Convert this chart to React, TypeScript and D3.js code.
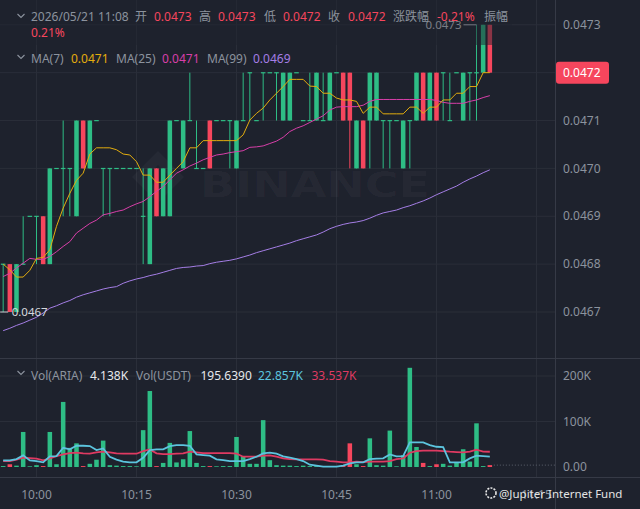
import React, { useEffect, useRef } from "react";
import * as d3 from "d3";

// one candle per minute, 09:55 .. 11:08
const times = [
  "09:55", "09:56", "09:57", "09:58", "09:59",
  "10:00", "10:01", "10:02", "10:03", "10:04", "10:05", "10:06", "10:07", "10:08", "10:09",
  "10:10", "10:11", "10:12", "10:13", "10:14", "10:15", "10:16", "10:17", "10:18", "10:19",
  "10:20", "10:21", "10:22", "10:23", "10:24", "10:25", "10:26", "10:27", "10:28", "10:29",
  "10:30", "10:31", "10:32", "10:33", "10:34", "10:35", "10:36", "10:37", "10:38", "10:39",
  "10:40", "10:41", "10:42", "10:43", "10:44", "10:45", "10:46", "10:47", "10:48", "10:49",
  "10:50", "10:51", "10:52", "10:53", "10:54", "10:55", "10:56", "10:57", "10:58", "10:59",
  "11:00", "11:01", "11:02", "11:03", "11:04", "11:05", "11:06", "11:07", "11:08",
];

const opens = [
  0.0468, 0.0468, 0.0467, 0.0468, 0.0469,
  0.0469, 0.0469, 0.0468, 0.047, 0.047, 0.047, 0.0469, 0.0471, 0.047, 0.0471,
  0.047, 0.047, 0.047, 0.047, 0.047, 0.047, 0.0469, 0.0468, 0.047, 0.0469,
  0.0469, 0.0471, 0.047, 0.0471, 0.047, 0.047, 0.0471, 0.0471, 0.0471, 0.0471,
  0.047, 0.0471, 0.0472, 0.0471, 0.0472, 0.0472, 0.0472, 0.0471, 0.0471, 0.0472,
  0.0471, 0.0471, 0.0471, 0.0471, 0.0471, 0.0472, 0.0472, 0.0472, 0.047, 0.0471,
  0.0471, 0.0471, 0.0471, 0.0471, 0.0471, 0.047, 0.0471, 0.0471, 0.0472, 0.0471,
  0.0472, 0.0472, 0.0471, 0.0472, 0.0471, 0.0472, 0.0472, 0.0472, 0.0473,
];
const highs = [
  0.0468, 0.0468, 0.0468, 0.0469, 0.0469,
  0.0469, 0.0469, 0.047, 0.047, 0.0471, 0.047, 0.0471, 0.0471, 0.0471, 0.0471,
  0.047, 0.047, 0.047, 0.047, 0.047, 0.047, 0.047, 0.047, 0.047, 0.047,
  0.0471, 0.0471, 0.0471, 0.0472, 0.0471, 0.047, 0.0471, 0.0471, 0.0471, 0.0471,
  0.0471, 0.0472, 0.0472, 0.0471, 0.0472, 0.0472, 0.0472, 0.0472, 0.0472, 0.0472,
  0.0471, 0.0472, 0.0472, 0.0472, 0.0472, 0.0472, 0.0472, 0.0472, 0.0471, 0.0471,
  0.0472, 0.0472, 0.0471, 0.0471, 0.0471, 0.0471, 0.0471, 0.0472, 0.0472, 0.0472,
  0.0472, 0.0472, 0.0472, 0.0472, 0.0472, 0.0472, 0.0473, 0.0473, 0.0473,
];
const lows = [
  0.0467, 0.0467, 0.0467, 0.0468, 0.0469,
  0.0468, 0.0468, 0.0468, 0.047, 0.0469, 0.0469, 0.0469, 0.047, 0.047, 0.0471,
  0.0469, 0.0469, 0.047, 0.047, 0.047, 0.047, 0.0468, 0.0468, 0.0469, 0.0469,
  0.0469, 0.0471, 0.047, 0.0471, 0.047, 0.047, 0.047, 0.0471, 0.0471, 0.047,
  0.047, 0.0471, 0.0471, 0.0471, 0.0471, 0.0472, 0.0471, 0.0471, 0.0471, 0.0472,
  0.0471, 0.0471, 0.0471, 0.0471, 0.0471, 0.0472, 0.0471, 0.047, 0.047, 0.047,
  0.047, 0.0471, 0.047, 0.047, 0.0471, 0.047, 0.047, 0.0471, 0.0471, 0.0471,
  0.0471, 0.0471, 0.0471, 0.0472, 0.0471, 0.0471, 0.0471, 0.0472, 0.0472,
];
const closes = [
  0.0468, 0.0467, 0.0468, 0.0468, 0.0469,
  0.0469, 0.0468, 0.047, 0.047, 0.047, 0.047, 0.0471, 0.047, 0.0471, 0.0471,
  0.047, 0.047, 0.047, 0.047, 0.047, 0.047, 0.0469, 0.047, 0.0469, 0.047,
  0.0471, 0.0471, 0.0471, 0.0471, 0.047, 0.047, 0.047, 0.0471, 0.0471, 0.0471,
  0.0471, 0.0471, 0.0472, 0.0471, 0.0472, 0.0472, 0.0472, 0.0472, 0.0472, 0.0472,
  0.0471, 0.0471, 0.0472, 0.0471, 0.0472, 0.0472, 0.0471, 0.0471, 0.0471, 0.047,
  0.0472, 0.0472, 0.0471, 0.0471, 0.0471, 0.0471, 0.0471, 0.0472, 0.0471, 0.0472,
  0.0471, 0.0472, 0.0471, 0.0472, 0.0472, 0.0472, 0.0472, 0.0473, 0.0472,
];
const volumes = [
  2000, 6000, 3000, 77000, 1500,
  4000, 2000, 77000, 6000, 143000, 42000, 52000, 2000, 7000, 16000,
  58000, 4000, 3000, 2000, 2000, 1500, 81000, 167000, 2000, 9000,
  53000, 10000, 17000, 79000, 9000, 2000, 2000, 1500, 2000, 2000,
  66000, 24000, 7000, 7000, 103000, 15000, 4000, 3000, 3000, 2000,
  3000, 2000, 2000, 1500, 1500, 2000, 2000, 52000, 6000, 2000,
  63000, 4000, 3000, 80000, 1500, 26000, 218000, 44000, 9000, 2000,
  6000, 7000, 3000, 11000, 39000, 12000, 96000, 2000, 4138,
];
const ma7 = [
  0.0468, 0.046788, 0.046773, 0.046773, 0.046787,
  0.046812, 0.046814, 0.04683, 0.046879, 0.046917, 0.046948, 0.046975, 0.04699, 0.04703, 0.047043,
  0.047043, 0.047043, 0.047039, 0.04703, 0.047028, 0.047014, 0.046986, 0.046986, 0.046971, 0.046971,
  0.046986, 0.047, 0.047014, 0.047043, 0.047043, 0.047058, 0.047058, 0.047058, 0.047058, 0.047058,
  0.047058, 0.04707, 0.047101, 0.047115, 0.047126, 0.047143, 0.047157, 0.047171, 0.047186, 0.047186,
  0.047186, 0.047172, 0.047171, 0.047157, 0.047157, 0.047147, 0.047143, 0.047143, 0.04714, 0.047115,
  0.047128, 0.047128, 0.047114, 0.047114, 0.047114, 0.047114, 0.047128, 0.047128, 0.047115, 0.047128,
  0.047128, 0.047143, 0.047143, 0.047157, 0.047157, 0.047171, 0.047171, 0.0472, 0.0472,
];
const ma25 = [
  0.046774, 0.046781, 0.046792, 0.046802, 0.046812,
  0.04681, 0.04681, 0.046816, 0.046826, 0.046837, 0.046847, 0.046865, 0.046875, 0.046885, 0.046892,
  0.046903, 0.046906, 0.04691, 0.046913, 0.04692, 0.046926, 0.046931, 0.046941, 0.046952, 0.046962,
  0.046976, 0.04699, 0.046997, 0.047005, 0.047011, 0.047018, 0.047023, 0.047028, 0.04703, 0.047033,
  0.047035, 0.047037, 0.047044, 0.047045, 0.047047, 0.047052, 0.047057, 0.047065, 0.047077, 0.047084,
  0.047089, 0.047096, 0.047103, 0.04711, 0.047122, 0.047128, 0.047129, 0.047129, 0.047129, 0.047132,
  0.04714, 0.047144, 0.047144, 0.047144, 0.047144, 0.047144, 0.047144, 0.047144, 0.047144, 0.047144,
  0.047142, 0.047138, 0.047136, 0.047136, 0.047136, 0.04714, 0.047143, 0.047148, 0.047152,
];
const ma99 = [
  0.046661, 0.046666, 0.046672, 0.046677, 0.046683,
  0.046689, 0.046698, 0.046708, 0.046713, 0.046719, 0.046724, 0.046731, 0.046736, 0.04674, 0.046744,
  0.046748, 0.046751, 0.046753, 0.04676, 0.046765, 0.046769, 0.046772, 0.046776, 0.046779, 0.046783,
  0.046787, 0.046791, 0.046793, 0.046794, 0.046796, 0.046797, 0.046801, 0.046804, 0.046806, 0.046808,
  0.046811, 0.046815, 0.046819, 0.046824, 0.046828, 0.046832, 0.046836, 0.04684, 0.046844, 0.046849,
  0.046853, 0.046857, 0.046861, 0.046867, 0.046874, 0.046879, 0.046883, 0.046886, 0.046888, 0.046891,
  0.046896, 0.046902, 0.046907, 0.04691, 0.046913, 0.046918, 0.046922, 0.046927, 0.046932, 0.046938,
  0.046945, 0.046951, 0.046957, 0.046963, 0.046971, 0.046978, 0.046984, 0.046991, 0.046997,
];
// volume averages, in K
const volMa5 = [
  14.6, 14.6, 17.5, 25.5, 14.6,
  13.1, 10.2, 23.4, 24.1, 42.3, 38.7, 46.7, 46.7, 46, 37.2,
  40.9, 22.6, 16.1, 11.7, 10.2, 10.2, 20.4, 37.2, 38.7, 38.7,
  46, 48.2, 48.2, 46.7, 27.7, 26.3, 24.8, 16.8, 15.3, 13.1,
  13.1, 13.1, 17.5, 22.6, 29.9, 31.4, 29.2, 23.4, 20.4, 17.5,
  13.1, 5.1, 2.9, 0.7, 0.7, 0.7, 2.9, 8, 10.2, 10.2,
  17.5, 18.2, 19, 27.7, 23.4, 24.1, 54, 54, 54, 48.2,
  44.5, 43.8, 10.2, 10.2, 10.2, 19, 24.8, 24.1, 22.857,
];
const volMa10 = [
  13.1, 13.1, 16.1, 20.4, 19.7,
  18.2, 14.6, 19, 24.1, 27.7, 30.7, 31.4, 29.9, 29.2, 32.1,
  33.6, 32.1, 29.9, 29.2, 29.2, 29.2, 35, 38.7, 29.9, 28.5,
  28.5, 29.2, 29.9, 33.6, 32.1, 30.7, 30.7, 30.7, 30.7, 30.7,
  29.2, 22.6, 22.6, 22.6, 24.8, 25.5, 22.6, 19, 17.5, 16.8,
  16.8, 16.8, 16.8, 16.1, 13.1, 11.7, 10.2, 10.2, 11.7, 10.9,
  11.7, 11.7, 11.7, 13.1, 17.5, 19, 31.4, 35, 35.8, 35.8,
  35.8, 35, 33.6, 32.8, 32.1, 33.6, 38, 33.6, 33.537,
];

const priceTicks = [0.0467, 0.0468, 0.0469, 0.047, 0.0471, 0.0472, 0.0473];
const volTicks = [0, 100000, 200000];
const volTickLabels = ["0.00", "100K", "200K"];
const timeTicks = ["10:00", "10:15", "10:30", "10:45", "11:00", "11:15"];
const lastPrice = 0.0472;

const BG = "#1e222d";
const GRID = "#2a2e39";
const SEP = "#363a46";
const TXT = "#8c939e";
const UP = "#2ebd85";
const DOWN = "#f6465d";
const FONT = '"Noto Sans", "Noto Sans CJK SC", sans-serif';

export default function App() {
  const ref = useRef<SVGSVGElement>(null);

  useEffect(() => {
    document.body.style.margin = "0";
    const svg = d3.select(ref.current);
    svg.selectAll("*").remove();

    const toMin = (s: string) => {
      const [h, m] = s.split(":").map(Number);
      return h * 60 + m;
    };
    const x = d3.scaleLinear().domain([toMin("10:00"), toMin("11:15")]).range([36.5, 536.5]);
    const y = d3.scaleLinear().domain([0.0467, 0.0473]).range([312, 24.8]);
    const yv = d3.scaleLinear().domain([0, 200000]).range([467, 376]);
    const step = x(toMin("10:01")) - x(toMin("10:00"));
    const bw = step * 0.68;
    const axisX = 555;

    const candles = times.map((t, i) => ({
      t: toMin(t), o: opens[i], h: highs[i], l: lows[i], c: closes[i], v: volumes[i],
    }));
    const col = (d) => (d.c < d.o ? DOWN : UP);

    svg.append("rect").attr("width", 640).attr("height", 509).attr("fill", BG);

    const defs = svg.append("defs");
    defs.append("clipPath").attr("id", "main").append("rect").attr("width", axisX).attr("height", 358);
    defs.append("clipPath").attr("id", "vol").append("rect").attr("y", 358).attr("width", axisX).attr("height", 119);

    // grid
    const grid = svg.append("g").attr("stroke", GRID).attr("stroke-width", 1);
    timeTicks.forEach((t) => {
      grid.append("line").attr("x1", x(toMin(t))).attr("x2", x(toMin(t))).attr("y1", 0).attr("y2", 477);
    });
    priceTicks.forEach((p) => {
      grid.append("line").attr("x1", 0).attr("x2", axisX).attr("y1", y(p)).attr("y2", y(p));
    });
    volTicks.slice(1).forEach((v) => {
      grid.append("line").attr("x1", 0).attr("x2", axisX).attr("y1", yv(v)).attr("y2", yv(v));
    });
    const sep = svg.append("g").attr("stroke", SEP).attr("stroke-width", 1);
    sep.append("line").attr("x1", 0).attr("x2", 640).attr("y1", 358.5).attr("y2", 358.5);
    sep.append("line").attr("x1", 0).attr("x2", 640).attr("y1", 477.5).attr("y2", 477.5);
    sep.append("line").attr("x1", axisX + 0.5).attr("x2", axisX + 0.5).attr("y1", 0).attr("y2", 509);

    // faint watermark
    const wm = svg.append("g").attr("fill", "#ffffff").attr("fill-opacity", 0.035);
    wm.append("text")
      .attr("x", 200).attr("y", 197)
      .attr("font-family", '"DejaVu Sans", sans-serif').attr("font-weight", 700)
      .attr("font-size", 36).attr("textLength", 230).attr("lengthAdjust", "spacingAndGlyphs")
      .text("BINANCE");
    wm.append("path").attr("d", "M158,151 L184,177 L158,203 L132,177 Z M158,165 L146,177 L158,189 L170,177 Z")
      .attr("fill-rule", "evenodd");

    // candles
    const main = svg.append("g").attr("clip-path", "url(#main)");
    main.selectAll(".wick").data(candles.filter((d) => d.h > d.l)).join("line")
      .attr("x1", (d) => x(d.t)).attr("x2", (d) => x(d.t))
      .attr("y1", (d) => y(d.h)).attr("y2", (d) => y(d.l))
      .attr("stroke", col).attr("stroke-width", 1);
    main.selectAll(".body").data(candles).join("rect")
      .attr("x", (d) => x(d.t) - bw / 2).attr("width", bw)
      .attr("y", (d) => (d.o === d.c ? y(d.c) - 0.5 : y(Math.max(d.o, d.c))))
      .attr("height", (d) => (d.o === d.c ? 1.2 : Math.abs(y(d.o) - y(d.c))))
      .attr("fill", col);

    const maLine = (vals: number[]) =>
      d3.line<number>().x((_, i) => x(candles[i].t)).y((v) => y(v))(vals);
    main.append("path").attr("d", maLine(ma99)).attr("fill", "none").attr("stroke", "#a57ee6").attr("stroke-width", 1);
    main.append("path").attr("d", maLine(ma25)).attr("fill", "none").attr("stroke", "#d83fa9").attr("stroke-width", 1);
    main.append("path").attr("d", maLine(ma7)).attr("fill", "none").attr("stroke", "#e3ad0e").attr("stroke-width", 1);

    // high / low markers
    const hi = candles[d3.maxIndex(candles, (d) => d.h)];
    const lo = candles[d3.minIndex(candles, (d) => d.l)];
    main.append("line").attr("x1", x(hi.t) - 13).attr("x2", x(hi.t)).attr("y1", y(hi.h)).attr("y2", y(hi.h))
      .attr("stroke", "#c9ccd2");
    main.append("text").attr("x", x(hi.t) - 15).attr("y", y(hi.h)).attr("dy", "0.35em")
      .attr("text-anchor", "end").attr("font-family", FONT).attr("font-size", 11.5).attr("fill", "#d5d8dd")
      .text(d3.format(".4f")(hi.h));
    main.append("line").attr("x1", x(lo.t) - 3).attr("x2", x(lo.t) + 5).attr("y1", y(lo.l)).attr("y2", y(lo.l))
      .attr("stroke", "#c9ccd2");
    main.append("text").attr("x", x(lo.t) + 8.5).attr("y", y(lo.l)).attr("dy", "0.35em")
      .attr("font-family", FONT).attr("font-size", 11.5).attr("fill", "#d5d8dd")
      .text(d3.format(".4f")(lo.l));

    // volume
    const vol = svg.append("g").attr("clip-path", "url(#vol)");
    vol.selectAll(".vbar").data(candles).join("rect")
      .attr("x", (d) => x(d.t) - bw / 2).attr("width", bw)
      .attr("y", (d) => yv(d.v)).attr("height", (d) => yv(0) - yv(d.v))
      .attr("fill", col);
    const vLine = (vals: number[]) =>
      d3.line<number>().x((_, i) => x(candles[i].t)).y((v) => yv(v * 1000))(vals);
    vol.append("path").attr("d", vLine(volMa10)).attr("fill", "none").attr("stroke", "#df3a62").attr("stroke-width", 1.8);
    vol.append("path").attr("d", vLine(volMa5)).attr("fill", "none").attr("stroke", "#5cc4de").attr("stroke-width", 1.8);
    const last = candles[candles.length - 1];
    svg.append("line").attr("x1", x(last.t) + 4).attr("x2", axisX).attr("y1", yv(last.v)).attr("y2", yv(last.v))
      .attr("stroke", "#5d626d").attr("stroke-dasharray", "1,2");

    // header veil
    svg.append("rect").attr("x", 0).attr("y", 0).attr("width", 512).attr("height", 45)
      .attr("fill", BG).attr("fill-opacity", 0.5);

    const txt = (g, xx: number, yy: number, s: string, fill: string, size = 12) =>
      g.append("text").attr("x", xx).attr("y", yy).attr("font-family", FONT).attr("font-size", size)
        .attr("fill", fill).text(s);
    const chevron = (yy: number) =>
      svg.append("path").attr("d", `M17.5,${yy} l3.5,3.5 l3.5,-3.5`).attr("fill", "none")
        .attr("stroke", TXT).attr("stroke-width", 1.1);

    chevron(14);
    const head = [
      [31, "2026/05/21 11:08", TXT], [135, "开", TXT], [154, "0.0473", DOWN],
      [199, "高", TXT], [218, "0.0473", DOWN], [264, "低", TXT], [283, "0.0472", DOWN],
      [328, "收", TXT], [348, "0.0472", DOWN], [393, "涨跌幅", TXT], [437, "-0.21%", DOWN],
      [484, "振幅", TXT],
    ];
    head.forEach(([xx, s, f]) => txt(svg, xx as number, 20.5, s as string, f as string));
    txt(svg, 31, 37, "0.21%", DOWN);

    chevron(55);
    const maHead = [
      [31, "MA(7)", TXT], [71, "0.0471", "#e3ad0e"], [116, "MA(25)", TXT], [162, "0.0471", "#d83fa9"],
      [207, "MA(99)", TXT], [253, "0.0469", "#a57ee6"],
    ];
    maHead.forEach(([xx, s, f]) => txt(svg, xx as number, 63, s as string, f as string));

    chevron(371);
    const volHead = [
      [31, "Vol(ARIA)", TXT], [90, "4.138K", "#e6e8eb"], [136, "Vol(USDT)", TXT],
      [200.5, "195.6390", "#e6e8eb"], [258, "22.857K", "#5cc4de"], [311.5, "33.537K", "#df3a62"],
    ];
    volHead.forEach(([xx, s, f]) => txt(svg, xx as number, 379.5, s as string, f as string));

    // price axis
    priceTicks.forEach((p) => {
      if (p === lastPrice) return;
      txt(svg, 563, y(p), d3.format(".4f")(p), TXT).attr("dy", "0.35em");
    });
    svg.append("rect").attr("x", 556).attr("y", y(lastPrice) - 11).attr("width", 53).attr("height", 22)
      .attr("rx", 3).attr("fill", DOWN);
    txt(svg, 563, y(lastPrice), d3.format(".4f")(lastPrice), "#ffffff").attr("dy", "0.35em");

    volTicks.forEach((v, i) => {
      txt(svg, 563, yv(v), volTickLabels[i], TXT).attr("dy", "0.35em");
    });

    // time axis
    timeTicks.forEach((t) => {
      txt(svg, x(toMin(t)), 499, t, TXT).attr("text-anchor", "middle");
    });

    // corner watermark
    svg.append("circle").attr("cx", 491).attr("cy", 493).attr("r", 5).attr("fill", "none")
      .attr("stroke", "#e8e8e8").attr("stroke-width", 1.6).attr("stroke-dasharray", "2,1.2");
    txt(svg, 499, 498, "@Jupiter Internet Fund", "#e4e4e4", 11.5);
  }, []);

  return <svg ref={ref} width={640} height={509} style={{ display: "block" }} />;
}
